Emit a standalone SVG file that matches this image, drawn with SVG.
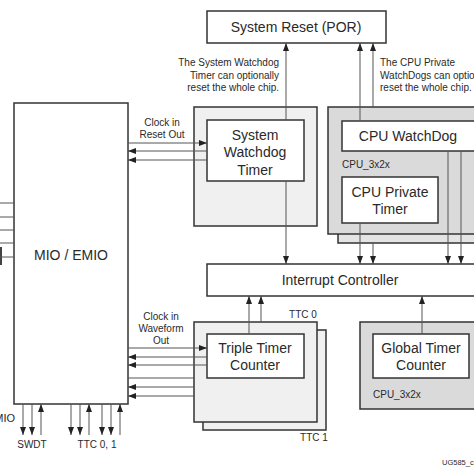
<svg xmlns="http://www.w3.org/2000/svg" width="474" height="474" viewBox="0 0 474 474">
<style>
text{font-family:"Liberation Sans",Arial,sans-serif;fill:#2a2a2a}
.box{fill:#fff;stroke:#333;stroke-width:1.5}
.outer{fill:#f0f0f0;stroke:#333;stroke-width:1.5}
.cpu{fill:#dadada;stroke:#333;stroke-width:1.5}
.cpub{fill:#e4e4e4;stroke:#333;stroke-width:1.5}
.t14{font-size:14px;text-anchor:middle}
.t10{font-size:10px}
.c{text-anchor:middle}
.r{text-anchor:end}
.ln{stroke:#555;stroke-width:1;fill:none}
.a{marker-end:url(#ah)}
</style>
<defs>
<marker id="ah" viewBox="0 0 8 6" refX="8" refY="3" markerWidth="8" markerHeight="6" markerUnits="userSpaceOnUse" orient="auto">
<path d="M0,0 L8,3 L0,6 z" fill="#222"/>
</marker>
</defs>

<g id="por">
<rect class="box" x="207" y="11" width="179" height="32"/>
<text class="t14" x="296" y="32">System Reset (POR)</text>
</g>

<g id="notes">
<text class="t10 r" x="279" y="66">The System Watchdog</text>
<text class="t10 r" x="279" y="79">Timer can optionally</text>
<text class="t10 r" x="279" y="91">reset the whole chip.</text>
<text class="t10" x="380" y="66">The CPU Private</text>
<text class="t10" x="380" y="79">WatchDogs can optionally</text>
<text class="t10" x="380" y="91">reset the whole chip.</text>
</g>

<g id="mio">
<rect class="box" x="14" y="103" width="114" height="301"/>
<text x="71" y="260" style="font-size:14px;text-anchor:middle">MIO / EMIO</text>
<text class="r" x="15" y="422" style="font-size:11px">EMIO</text>
<rect x="0" y="247" width="2" height="18" fill="#444"/>
</g>

<g id="swdt">
<rect class="outer" x="194" y="107" width="123" height="119"/>
<rect class="box" x="207" y="120" width="97" height="61"/>
<text class="t14" x="255" y="140">System</text>
<text class="t14" x="255" y="157">Watchdog</text>
<text class="t14" x="255" y="175">Timer</text>
</g>

<g id="cpu">
<rect class="cpub" x="338" y="116" width="150" height="127"/>
<rect class="cpu" x="328" y="107" width="160" height="127"/>
<rect class="box" x="342" y="121" width="140" height="30"/>
<text class="t14" x="408" y="141">CPU WatchDog</text>
<text class="t10" x="342" y="168">CPU_3x2x</text>
<rect class="box" x="342" y="177" width="96" height="46"/>
<text class="t14" x="390" y="197">CPU Private</text>
<text class="t14" x="390" y="214">Timer</text>
</g>

<g id="intc">
<rect class="box" x="207" y="264" width="280" height="32"/>
<text class="t14" x="340" y="285">Interrupt Controller</text>
</g>

<g id="ttc">
<rect class="outer" x="203" y="330" width="123" height="100"/>
<rect class="outer" x="194" y="322" width="123" height="100"/>
<rect class="box" x="207" y="334" width="97" height="44"/>
<text class="t14" x="255" y="353">Triple Timer</text>
<text class="t14" x="255" y="370">Counter</text>
<text class="t10 c" x="303" y="318">TTC 0</text>
<text class="t10 c" x="314" y="441">TTC 1</text>
</g>

<g id="gtc">
<rect class="cpu" x="360" y="322" width="130" height="87"/>
<rect class="box" x="373" y="334" width="96" height="44"/>
<text class="t14" x="421" y="353">Global Timer</text>
<text class="t14" x="421" y="370">Counter</text>
<text class="t10" x="373" y="398">CPU_3x2x</text>
</g>

<g id="labels">
<text class="t10 c" x="162" y="126">Clock in</text>
<text class="t10 c" x="162" y="138">Reset Out</text>
<text class="t10 c" x="161" y="320">Clock in</text>
<text class="t10 c" x="161" y="332">Waveform</text>
<text class="t10 c" x="161" y="344">Out</text>
<text class="c" x="32" y="448" style="font-size:10px">SWDT</text>
<text class="c" x="97" y="448" style="font-size:10px">TTC 0, 1</text>
<text x="442" y="465" style="font-size:7.5px">UG585_c</text>
</g>

<g id="connectors">
<line class="ln a" x1="286" y1="120" x2="286" y2="43"/>
<line class="ln a" x1="360" y1="121" x2="360" y2="43"/>
<line class="ln a" x1="373" y1="107" x2="373" y2="43"/>
<line class="ln a" x1="286" y1="181" x2="286" y2="264"/>
<line class="ln a" x1="360" y1="223" x2="360" y2="264"/>
<line class="ln a" x1="373" y1="243" x2="373" y2="264"/>
<line class="ln a" x1="448" y1="151" x2="448" y2="264"/>
<line class="ln a" x1="461" y1="151" x2="461" y2="264"/>
<line class="ln a" x1="249" y1="334" x2="249" y2="296"/>
<line class="ln a" x1="261" y1="322" x2="261" y2="296"/>
<line class="ln a" x1="422" y1="334" x2="422" y2="296"/>
<line class="ln a" x1="128" y1="143" x2="207" y2="143"/>
<line class="ln a" x1="207" y1="151" x2="128" y2="151"/>
<line class="ln a" x1="207" y1="160" x2="128" y2="160"/>
<line class="ln a" x1="128" y1="348" x2="207" y2="348"/>
<line class="ln a" x1="207" y1="357" x2="128" y2="357"/>
<line class="ln a" x1="207" y1="365" x2="128" y2="365"/>
<line class="ln" x1="128" y1="378" x2="194" y2="378"/>
<line class="ln a" x1="194" y1="387" x2="128" y2="387"/>
<line class="ln a" x1="194" y1="396" x2="128" y2="396"/>
<line class="ln" x1="0" y1="203" x2="14" y2="203"/>
<line class="ln" x1="0" y1="217" x2="14" y2="217"/>
<line class="ln" x1="0" y1="230" x2="14" y2="230"/>
<line class="ln" x1="0" y1="243" x2="14" y2="243"/>
<line class="ln" x1="0" y1="257" x2="14" y2="257"/>
<line class="ln a" x1="23" y1="404" x2="23" y2="435"/>
<line class="ln a" x1="32" y1="404" x2="32" y2="435"/>
<line class="ln a" x1="41" y1="435" x2="41" y2="404"/>
<line class="ln a" x1="71" y1="404" x2="71" y2="435"/>
<line class="ln a" x1="80" y1="404" x2="80" y2="435"/>
<line class="ln a" x1="89" y1="435" x2="89" y2="404"/>
<line class="ln a" x1="102" y1="404" x2="102" y2="435"/>
<line class="ln a" x1="111" y1="404" x2="111" y2="435"/>
<line class="ln a" x1="120" y1="435" x2="120" y2="404"/>
</g>
</svg>
